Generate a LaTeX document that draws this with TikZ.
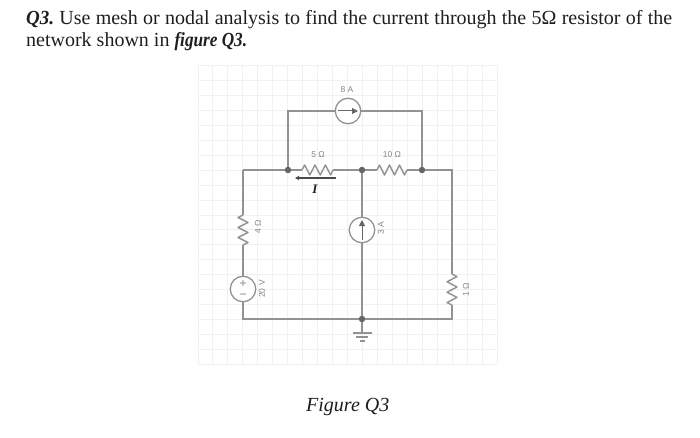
\documentclass[tikz,border=0pt]{standalone}
\usepackage{fontspec}
\usepackage{graphicx}
\setmainfont{Liberation Serif}
\newfontfamily\labelfont{Liberation Sans}
\usetikzlibrary{arrows.meta}
\definecolor{wirec}{HTML}{929292}
\definecolor{dotc}{HTML}{666666}
\definecolor{gridc}{HTML}{F1F1F1}
\definecolor{labc}{HTML}{858585}
\definecolor{inkc}{HTML}{1E1E1E}
\tikzset{
  wire/.style={draw=wirec,line width=1.4pt},
  source/.style={circle,draw=wirec,line width=1.3pt,fill=white,minimum size=25.5pt,inner sep=0pt},
  junction/.style={circle,fill=dotc,minimum size=6.5pt,inner sep=0pt},
  val/.style={text=labc,font=\labelfont\fontsize{8.5}{9}\selectfont,inner sep=0pt},
  prose/.style={text=inkc,anchor=base west,inner sep=0pt,font=\fontsize{20}{22}\selectfont},
  srcarrow/.style={draw=wirec!70!black,line width=1pt,-{Triangle[length=6pt,width=6pt]}},
  curarrow/.style={draw=inkc!80!white,line width=1.1pt,-{Triangle[length=4pt,width=4pt]}}
}
\begin{document}
\begin{tikzpicture}[x=1pt,y=-1pt]
\useasboundingbox (0,0) rectangle (700,438);
% grid
\foreach \i in {0,...,20} {
  \draw[gridc,line width=1pt] ({198+14.95*\i},66) -- ({198+14.95*\i},364);
  \draw[gridc,line width=1pt] (198,{66+14.9*\i}) -- (497,{66+14.9*\i});
}
% text
\node[prose] (title1) at (26,25) {\hbox to 646pt{\scalebox{.95}[1]{\textbf{\textit{Q3.}}} Use mesh or nodal analysis to find the current through the 5Ω resistor of the}};
\node[prose] (title2) at (26,47) {network shown in \scalebox{.86}[1]{\textbf{\textit{figure Q3.}}}};
\node[prose,font=\fontsize{20}{22}\selectfont\itshape] (caption) at (306,411) {Figure Q3};
% junctions and points
\node[junction] (ja) at (288,170) {};
\node[junction] (jb) at (362,170) {};
\node[junction] (jc) at (422,170) {};
\node[junction] (jd) at (362,319) {};
\coordinate (tl) at (288,111);
\coordinate (tr) at (422,111);
\coordinate (ml) at (243,170);
\coordinate (mr) at (452,170);
\coordinate (bl) at (243,319);
\coordinate (br) at (452,319);
\coordinate (ra1) at (302,170); \coordinate (ra2) at (333,170);
\coordinate (rb1) at (377,170); \coordinate (rb2) at (407,170);
\coordinate (rc1) at (243,215); \coordinate (rc2) at (243,245);
\coordinate (rd1) at (452,274); \coordinate (rd2) at (452,305);
\coordinate (gnd) at (362,333);
\coordinate (gndb) at (362,337);
\coordinate (gndc) at (362,341);
% sources
\node[source] (s8) at (348,111) {};
\node[source] (s3) at (362,230) {};
\node[source] (s20) at (243,289) {};
% wires
\draw[wire] (ja) -- (tl) -- (s8) -- (tr) -- (jc);
\draw[wire] (ml) -- (ja) -- (ra1);
\draw[wire] (ra2) -- (jb) -- (rb1);
\draw[wire] (rb2) -- (jc) -- (mr) -- (rd1);
\draw[wire] (ml) -- (rc1);
\draw[wire] (rc2) -- (s20);
\draw[wire] (s20) -- (bl) -- (jd) -- (br) -- (rd2);
\draw[wire] (jb) -- (s3) -- (jd) -- (gnd);
% resistors
\draw[wire,line join=round] (ra1) -- ++(2.6,-5) -- ++(5.2,10) -- ++(5.2,-10) -- ++(5.2,10) -- ++(5.2,-10) -- ++(5.2,10) -- (ra2);
\draw[wire,line join=round] (rb1) -- ++(2.5,-5) -- ++(5,10) -- ++(5,-10) -- ++(5,10) -- ++(5,-10) -- ++(5,10) -- (rb2);
\draw[wire,line join=round] (rc1) -- ++(-5,2.5) -- ++(10,5) -- ++(-10,5) -- ++(10,5) -- ++(-10,5) -- ++(10,5) -- (rc2);
\draw[wire,line join=round] (rd1) -- ++(5,2.6) -- ++(-10,5.2) -- ++(10,5.2) -- ++(-10,5.2) -- ++(10,5.2) -- ++(-10,5.2) -- (rd2);
% ground
\draw[wire] ([xshift=-9.5pt]gnd) -- ([xshift=9.5pt]gnd);
\draw[wire] ([xshift=-6pt]gndb) -- ([xshift=6pt]gndb);
\draw[wire] ([xshift=-2.5pt]gndc) -- ([xshift=2.5pt]gndc);
% source symbols
\draw[srcarrow] ([xshift=-10pt]s8.center) -- ([xshift=10pt]s8.center);
\draw[srcarrow] ([yshift=-10pt]s3.center) -- ([yshift=10pt]s3.center);
\node[text=labc,inner sep=0pt,font=\labelfont\fontsize{12}{12}\selectfont] (plus) at (243,284) {+};
\node[text=labc,inner sep=0pt,font=\labelfont\fontsize{12}{12}\selectfont] (minus) at (243,296) {−};
% current arrow
\coordinate (ia) at (336,178); \coordinate (ib) at (295,178);
\draw[curarrow] (ia) -- (ib);
\node[inner sep=0pt,text=inkc,font=\fontsize{13}{13}\selectfont\bfseries\itshape] (ilab) at (315,189) {I};
% values
\node[val] (v5) at (318,155) {5 Ω};
\node[val] (v10) at (392,155) {10 Ω};
\node[val] (v8) at (347,90) {8 A};
\node[val,rotate=90] (v4) at (258,227) {4 Ω};
\node[val,rotate=90] (v20) at (262,289) {20 V};
\node[val,rotate=90] (v3) at (381,228) {3 A};
\node[val,rotate=90] (v1) at (466,290) {1 Ω};
\end{tikzpicture}
\end{document}
